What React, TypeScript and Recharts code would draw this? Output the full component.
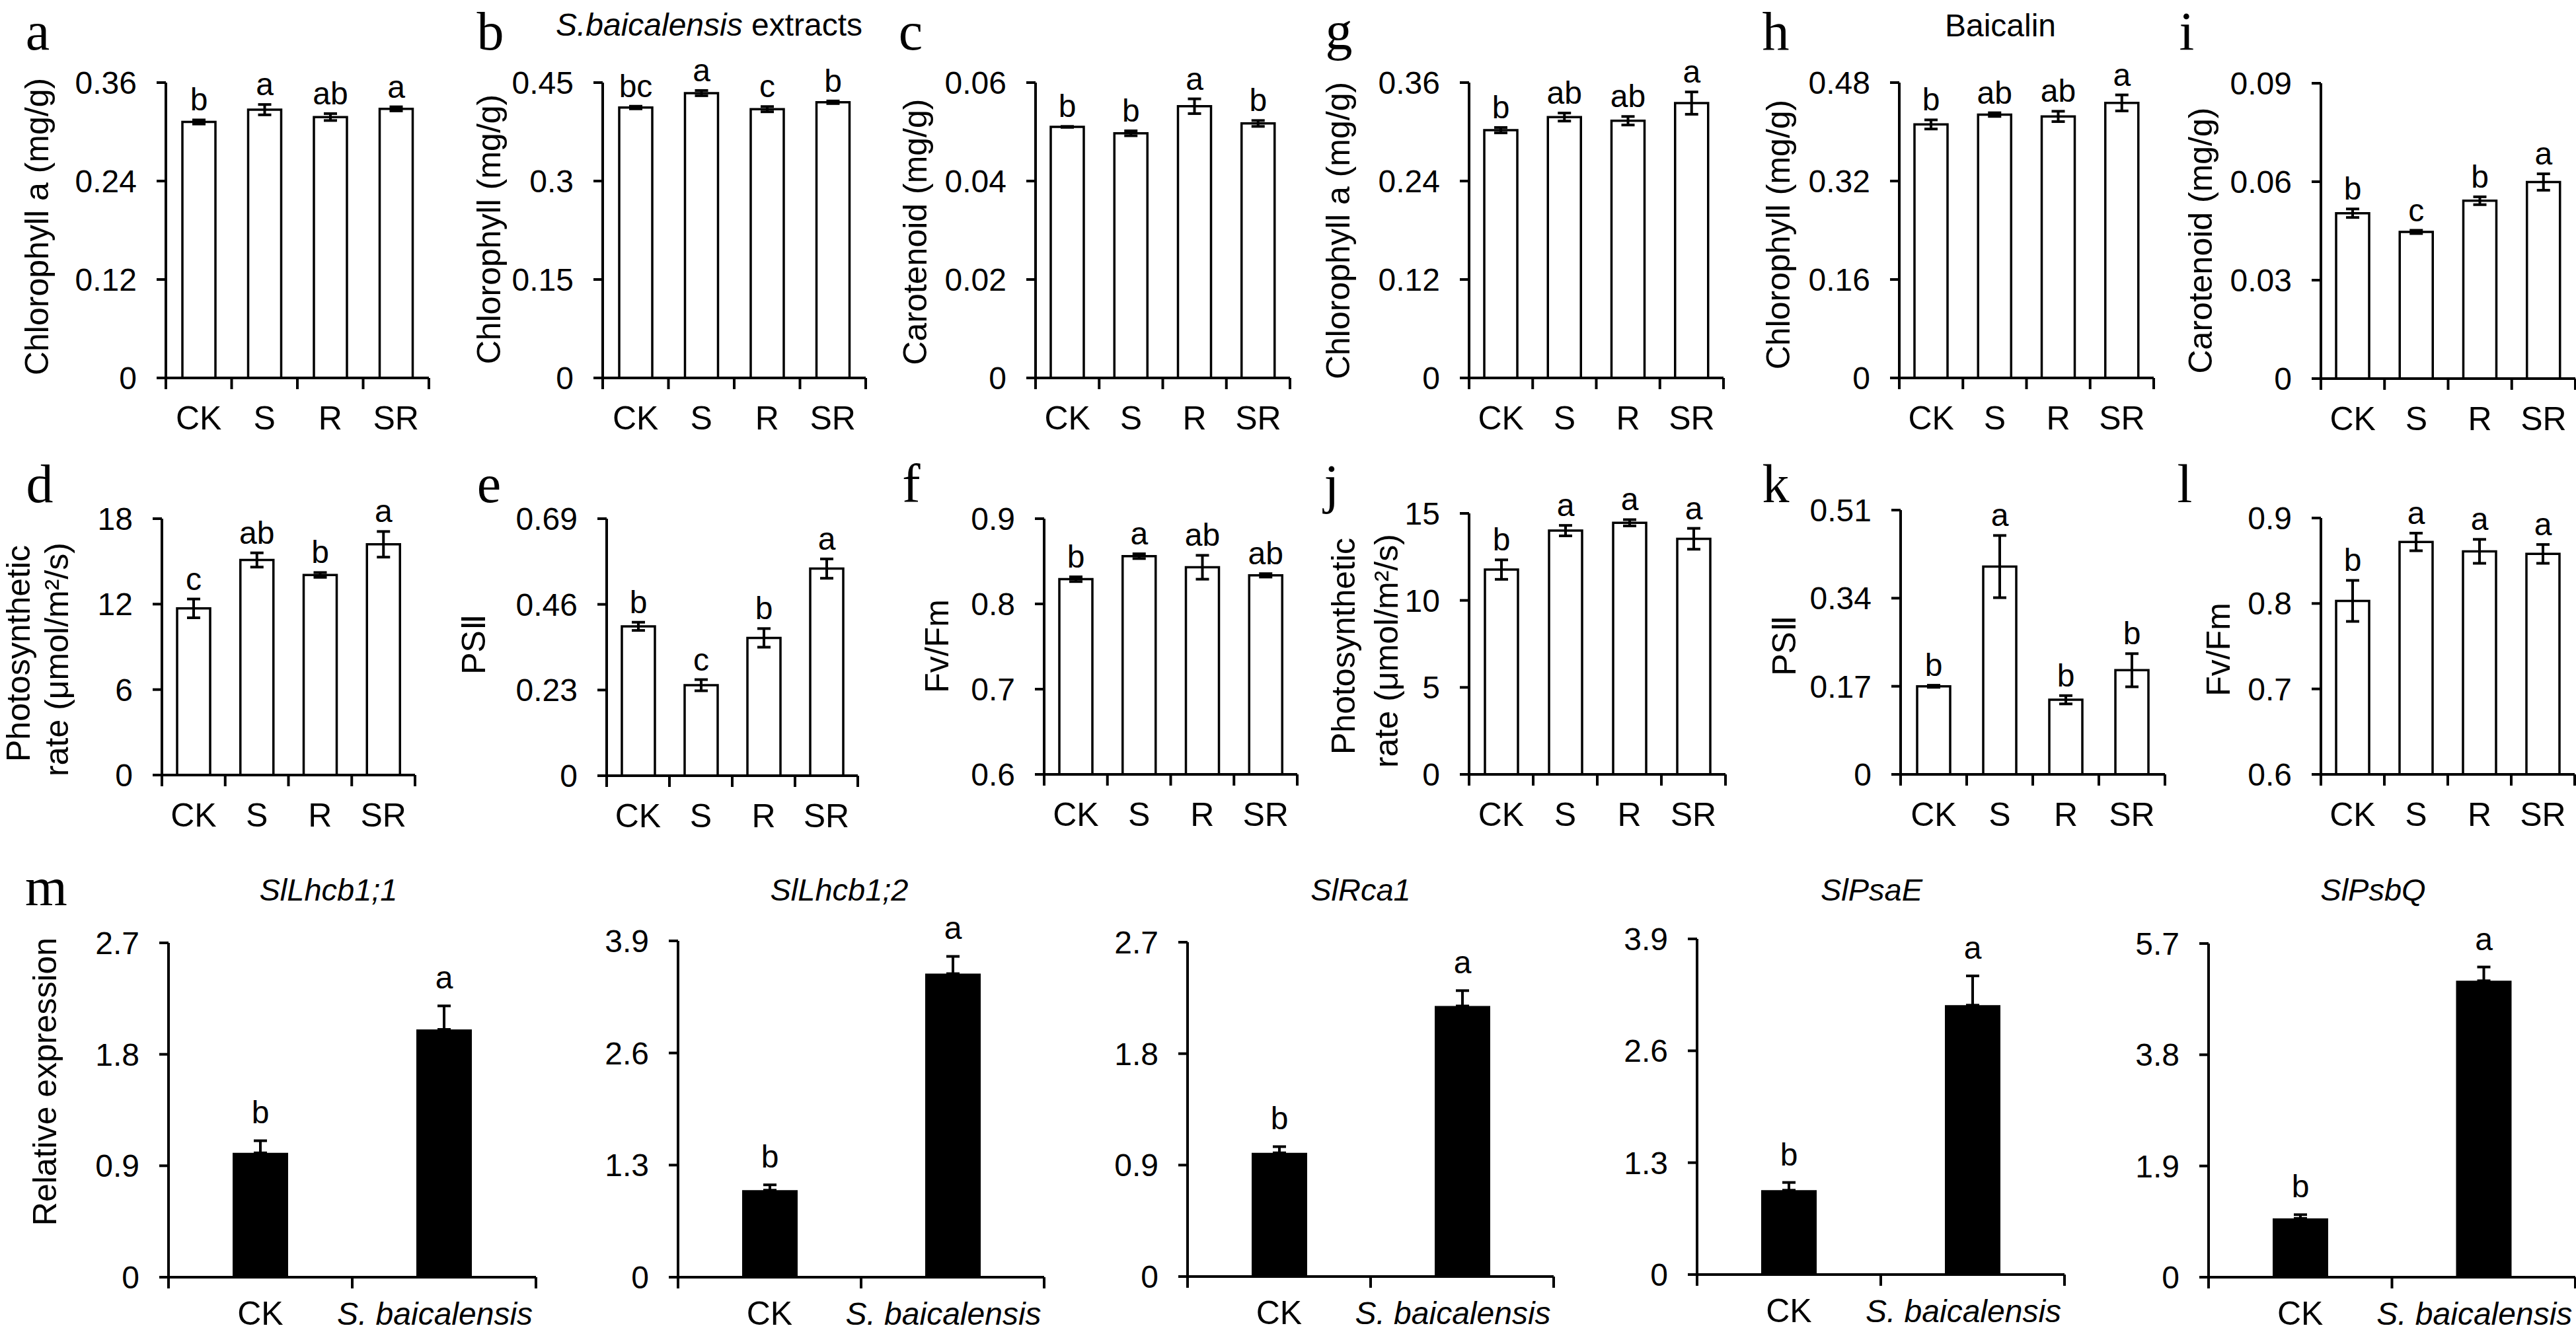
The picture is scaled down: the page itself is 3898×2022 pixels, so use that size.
import React from 'react';
import { BarChart, Bar, XAxis, YAxis, ErrorBar, LabelList } from 'recharts';

const SANS = '"Liberation Sans", Arial, Helvetica, sans-serif';
const SERIF = '"Liberation Serif", "Times New Roman", serif';

// ---------- categories ----------
const groups = ['CK', 'S', 'R', 'SR'];
const treatments = ['CK', 'S. baicalensis'];

// ---------- S. baicalensis extracts ----------
const chlAExt = [0.312, 0.327, 0.318, 0.328];
const chlAExtErr = [0.0025, 0.0063, 0.0042, 0.0025];
const chlAExtSig = ['b', 'a', 'ab', 'a'];
const chlAExtTicks = [0, 0.12, 0.24, 0.36];

const chlExt = [0.412, 0.434, 0.4095, 0.42];
const chlExtErr = [0.002, 0.004, 0.004, 0.002];
const chlExtSig = ['bc', 'a', 'c', 'b'];
const chlExtTicks = [0, 0.15, 0.3, 0.45];

const carExt = [0.051, 0.0497, 0.0552, 0.0517];
const carExtErr = [0.0001, 0.0005, 0.0015, 0.0006];
const carExtSig = ['b', 'b', 'a', 'b'];
const carExtTicks = [0, 0.02, 0.04, 0.06];

const photoExt = [11.7, 15.1, 14.05, 16.2];
const photoExtErr = [0.66, 0.5, 0.17, 0.9];
const photoExtSig = ['c', 'ab', 'b', 'a'];
const photoExtTicks = [0, 6, 12, 18];

const psiiExt = [0.401, 0.243, 0.37, 0.556];
const psiiExtErr = [0.011, 0.015, 0.025, 0.026];
const psiiExtSig = ['b', 'c', 'b', 'a'];
const psiiExtTicks = [0, 0.23, 0.46, 0.69];

const fvfmExt = [0.829, 0.856, 0.843, 0.8335];
const fvfmExtErr = [0.0028, 0.0028, 0.014, 0.002];
const fvfmExtSig = ['b', 'a', 'ab', 'ab'];
const fvfmExtTicks = [0.6, 0.7, 0.8, 0.9];

// ---------- Baicalin ----------
const chlABai = [0.302, 0.318, 0.3135, 0.335];
const chlABaiErr = [0.0033, 0.0049, 0.0052, 0.0136];
const chlABaiSig = ['b', 'ab', 'ab', 'a'];
const chlABaiTicks = [0, 0.12, 0.24, 0.36];

const chlBai = [0.412, 0.428, 0.425, 0.447];
const chlBaiErr = [0.0074, 0.003, 0.0084, 0.013];
const chlBaiSig = ['b', 'ab', 'ab', 'a'];
const chlBaiTicks = [0, 0.16, 0.32, 0.48];

const carBai = [0.0504, 0.0447, 0.0542, 0.0599];
const carBaiErr = [0.0013, 0.0005, 0.0012, 0.0025];
const carBaiSig = ['b', 'c', 'b', 'a'];
const carBaiTicks = [0, 0.03, 0.06, 0.09];

const photoBai = [11.77, 14.01, 14.46, 13.54];
const photoBaiErr = [0.56, 0.3, 0.18, 0.6];
const photoBaiSig = ['b', 'a', 'a', 'a'];
const photoBaiTicks = [0, 5, 10, 15];

const psiiBai = [0.17, 0.401, 0.144, 0.201];
const psiiBaiErr = [0.002, 0.06, 0.008, 0.032];
const psiiBaiSig = ['b', 'a', 'b', 'b'];
const psiiBaiTicks = [0, 0.17, 0.34, 0.51];

const fvfmBai = [0.803, 0.872, 0.861, 0.858];
const fvfmBaiErr = [0.024, 0.0103, 0.014, 0.011];
const fvfmBaiSig = ['b', 'a', 'a', 'a'];
const fvfmBaiTicks = [0.6, 0.7, 0.8, 0.9];

// ---------- gene expression ----------
const lhcb11 = [1.004, 2.001];
const lhcb11Err = [0.098, 0.19];
const lhcb12 = [1.009, 3.52];
const lhcb12Err = [0.062, 0.2];
const rca1 = [0.999, 2.185];
const rca1Err = [0.05, 0.124];
const psaE = [0.98, 3.13];
const psaEErr = [0.09, 0.34];
const psbQ = [1.004, 5.064];
const psbQErr = [0.064, 0.235];
const geneSig = ['b', 'a'];
const ticks27 = [0, 0.9, 1.8, 2.7];
const ticks39 = [0, 1.3, 2.6, 3.9];
const ticks57 = [0, 1.9, 3.8, 5.7];

// ---------- layout ----------
type Panel = {
  cats: string[];
  values: number[];
  errs: number[];
  sigs: string[];
  ticks: number[];
  axisX: number;
  top: number;
  bottom: number;
  width: number;
  solid?: boolean;
};

const panels: Panel[] = [
  { cats: groups, values: chlAExt, errs: chlAExtErr, sigs: chlAExtSig, ticks: chlAExtTicks, axisX: 251, top: 125, bottom: 572, width: 398 },
  { cats: groups, values: chlExt, errs: chlExtErr, sigs: chlExtSig, ticks: chlExtTicks, axisX: 912, top: 125, bottom: 572, width: 398 },
  { cats: groups, values: carExt, errs: carExtErr, sigs: carExtSig, ticks: carExtTicks, axisX: 1567, top: 125, bottom: 572, width: 385 },
  { cats: groups, values: chlABai, errs: chlABaiErr, sigs: chlABaiSig, ticks: chlABaiTicks, axisX: 2223, top: 125, bottom: 572, width: 385 },
  { cats: groups, values: chlBai, errs: chlBaiErr, sigs: chlBaiSig, ticks: chlBaiTicks, axisX: 2874, top: 125, bottom: 572, width: 385 },
  { cats: groups, values: carBai, errs: carBaiErr, sigs: carBaiSig, ticks: carBaiTicks, axisX: 3512, top: 126, bottom: 573, width: 385 },

  { cats: groups, values: photoExt, errs: photoExtErr, sigs: photoExtSig, ticks: photoExtTicks, axisX: 245, top: 785, bottom: 1173, width: 383 },
  { cats: groups, values: psiiExt, errs: psiiExtErr, sigs: psiiExtSig, ticks: psiiExtTicks, axisX: 918, top: 785, bottom: 1174, width: 380 },
  { cats: groups, values: fvfmExt, errs: fvfmExtErr, sigs: fvfmExtSig, ticks: fvfmExtTicks, axisX: 1580, top: 785, bottom: 1172, width: 383 },
  { cats: groups, values: photoBai, errs: photoBaiErr, sigs: photoBaiSig, ticks: photoBaiTicks, axisX: 2223, top: 777, bottom: 1172, width: 388 },
  { cats: groups, values: psiiBai, errs: psiiBaiErr, sigs: psiiBaiSig, ticks: psiiBaiTicks, axisX: 2876, top: 772, bottom: 1172, width: 400 },
  { cats: groups, values: fvfmBai, errs: fvfmBaiErr, sigs: fvfmBaiSig, ticks: fvfmBaiTicks, axisX: 3512, top: 784, bottom: 1172, width: 384 },

  { cats: treatments, values: lhcb11, errs: lhcb11Err, sigs: geneSig, ticks: ticks27, axisX: 255, top: 1427, bottom: 1933, width: 556, solid: true },
  { cats: treatments, values: lhcb12, errs: lhcb12Err, sigs: geneSig, ticks: ticks39, axisX: 1026, top: 1424, bottom: 1933, width: 554, solid: true },
  { cats: treatments, values: rca1, errs: rca1Err, sigs: geneSig, ticks: ticks27, axisX: 1797, top: 1426, bottom: 1932, width: 554, solid: true },
  { cats: treatments, values: psaE, errs: psaEErr, sigs: geneSig, ticks: ticks39, axisX: 2568, top: 1421, bottom: 1929, width: 556, solid: true },
  { cats: treatments, values: psbQ, errs: psbQErr, sigs: geneSig, ticks: ticks57, axisX: 3342, top: 1428, bottom: 1933, width: 555, solid: true },
];

const YW = 160;
const MT = 110;
const MR = 14;

type Row = { name: string; value: number; err: number | number[]; up: number; sig: string };

function buildRows(p: Panel): Row[] {
  return p.cats.map((c, i) => ({
    name: c,
    value: p.values[i],
    err: p.solid ? [0, p.errs[i]] : p.errs[i],
    up: p.errs[i],
    sig: p.sigs[i],
  }));
}

function renderXTick(tp: any, band: number, labelDy: number, n: number) {
  const { x, y, payload, index } = tp;
  const half = payload && typeof payload.offset === 'number' && payload.offset > 0 ? payload.offset : band / 2;
  const left = x - half;
  const label = String(payload.value);
  const italic = label.includes('baicalensis');
  return (
    <g>
      <line x1={left} y1={y} x2={left} y2={y + 17} stroke="#000" strokeWidth={4} />
      {index === n - 1 && <line x1={x + half} y1={y} x2={x + half} y2={y + 17} stroke="#000" strokeWidth={4} />}
      {index === 0 && <line x1={left - 14} y1={y} x2={left} y2={y} stroke="#000" strokeWidth={4} />}
      <text
        x={italic ? x - 14 : x}
        y={y + labelDy}
        textAnchor="middle"
        fontSize={italic ? 48 : 50}
        fontFamily={SANS}
        fontStyle={italic ? 'italic' : 'normal'}
        fill="#000"
      >
        {label}
      </text>
    </g>
  );
}

function renderSig(lp: any, rows: Row[], yMin: number, gap: number, band: number) {
  const vb = lp.viewBox || {};
  const x = vb.x ?? lp.x;
  const y = vb.y ?? lp.y;
  const w = vb.width ?? lp.width;
  const h = vb.height ?? lp.height;
  let i = typeof lp.index === 'number' ? lp.index : -1;
  if (i < 0) i = Math.max(0, Math.min(rows.length - 1, Math.floor((x + w / 2 - YW) / band)));
  const r = rows[i];
  if (!r) return null;
  const ppu = Math.abs(h) / (r.value - yMin);
  const top = Math.min(y, y + h) - r.up * ppu;
  return (
    <text x={x + w / 2} y={top - gap} textAnchor="middle" fontSize={48} fontFamily={SANS} fill="#000">
      {r.sig}
    </text>
  );
}

function PanelChart({ p }: { p: Panel }) {
  const rows = buildRows(p);
  const plotH = p.bottom - p.top;
  const yMin = p.ticks[0];
  const yMax = p.ticks[p.ticks.length - 1];
  const n = p.cats.length;
  const band = p.width / n;
  const labelDy = p.solid ? 72 : 78;
  const gap = p.solid ? 26 : 14;
  const xh = p.solid ? 86 : 104;
  return (
    <div style={{ position: 'absolute', left: p.axisX - YW, top: p.top - MT }}>
      <BarChart
        width={YW + p.width + MR}
        height={MT + plotH + xh}
        data={rows}
        margin={{ top: MT, right: MR, bottom: 0, left: 0 }}
        barSize={p.solid ? 84 : 50}
      >
        <XAxis
          dataKey="name"
          height={xh}
          interval={0}
          axisLine={{ stroke: '#000', strokeWidth: 4 }}
          tickLine={false}
          tickSize={0}
          tickMargin={0}
          tick={(tp: any) => renderXTick(tp, band, labelDy, n)}
        />
        <YAxis
          width={YW}
          type="number"
          domain={[yMin, yMax]}
          ticks={p.ticks}
          interval={0}
          allowDataOverflow
          axisLine={{ stroke: '#000', strokeWidth: 4 }}
          tickLine={{ stroke: '#000', strokeWidth: 4 }}
          tickSize={14}
          tickMargin={30}
          tick={{ fontSize: 48, fill: '#000', fontFamily: SANS }}
        />
        <Bar
          dataKey="value"
          fill={p.solid ? '#000' : '#fff'}
          stroke="#000"
          strokeWidth={p.solid ? 0 : 3.5}
          isAnimationActive={false}
        >
          <ErrorBar dataKey="err" width={10} strokeWidth={4} stroke="#000" direction="y" />
          <LabelList dataKey="sig" content={(lp: any) => renderSig(lp, rows, yMin, gap, band)} />
        </Bar>
      </BarChart>
    </div>
  );
}

// ---------- overlay texts ----------
const panelLetters = [
  { t: 'a', x: 57, y: 75 }, { t: 'b', x: 742, y: 75 }, { t: 'c', x: 1378, y: 75 },
  { t: 'g', x: 2026, y: 74 }, { t: 'h', x: 2687, y: 75 }, { t: 'i', x: 3309, y: 75 },
  { t: 'd', x: 60, y: 760 }, { t: 'e', x: 740, y: 760 }, { t: 'f', x: 1379, y: 760 },
  { t: 'j', x: 2015, y: 760 }, { t: 'k', x: 2687, y: 760 }, { t: 'l', x: 3306, y: 760 },
  { t: 'm', x: 70, y: 1370 },
];

const yLabels = [
  { t: 'Chlorophyll a (mg/g)', x: 56, y: 343 },
  { t: 'Chlorophyll (mg/g)', x: 740, y: 347 },
  { t: 'Carotenoid (mg/g)', x: 1385, y: 351 },
  { t: 'Chlorophyll a (mg/g)', x: 2025, y: 349 },
  { t: 'Chlorophyll (mg/g)', x: 2691, y: 355 },
  { t: 'Carotenoid (mg/g)', x: 3330, y: 364 },
  { t: 'Photosynthetic', x: 28, y: 989 },
  { t: 'rate (μmol/m²/s)', x: 86, y: 998 },
  { t: 'Fv/Fm', x: 1418, y: 978 },
  { t: 'Photosynthetic', x: 2033, y: 978 },
  { t: 'rate (μmol/m²/s)', x: 2098, y: 985 },
  { t: 'Fv/Fm', x: 3357, y: 983 },
  { t: 'Relative expression', x: 68, y: 1637 },
];

const psiiLabels = [
  { x: 717, y: 975 },
  { x: 2700, y: 977 },
];

const geneTitles = [
  { t: 'SlLhcb1;1', x: 497 },
  { t: 'SlLhcb1;2', x: 1270 },
  { t: 'SlRca1', x: 2059 },
  { t: 'SlPsaE', x: 2832 },
  { t: 'SlPsbQ', x: 3591 },
];

function Overlay() {
  return (
    <svg width={3898} height={2022} style={{ position: 'absolute', left: 0, top: 0, pointerEvents: 'none' }}>
      {panelLetters.map((l) => (
        <text key={l.t} x={l.x} y={l.y} textAnchor="middle" fontSize={82} fontFamily={SERIF} fill="#000">
          {l.t}
        </text>
      ))}
      <text x={1073} y={54} textAnchor="middle" fontSize={48} fontFamily={SANS} fill="#000">
        <tspan fontStyle="italic">S.baicalensis</tspan>
        <tspan> extracts</tspan>
      </text>
      <text x={3027} y={55} textAnchor="middle" fontSize={48} fontFamily={SANS} fill="#000">
        Baicalin
      </text>
      {geneTitles.map((g) => (
        <text key={g.t} x={g.x} y={1363} textAnchor="middle" fontSize={47} fontStyle="italic" fontFamily={SANS} fill="#000">
          {g.t}
        </text>
      ))}
      {yLabels.map((l, i) => (
        <text
          key={i}
          x={0}
          y={0}
          transform={`translate(${l.x},${l.y}) rotate(-90)`}
          textAnchor="middle"
          dominantBaseline="central"
          fontSize={50}
          fontFamily={SANS}
          fill="#000"
        >
          {l.t}
        </text>
      ))}
      {psiiLabels.map((l, i) => (
        <text
          key={i}
          x={0}
          y={0}
          transform={`translate(${l.x},${l.y}) rotate(-90)`}
          textAnchor="middle"
          dominantBaseline="central"
          fontSize={50}
          fontFamily={SANS}
          fill="#000"
        >
          <tspan>PS</tspan>
          <tspan fontFamily={SERIF}>Ⅱ</tspan>
        </text>
      ))}
    </svg>
  );
}

export default function App() {
  return (
    <div
      style={{
        position: 'absolute',
        left: 0,
        top: 0,
        width: 3898,
        height: 2022,
        overflow: 'hidden',
        background: '#fff',
        fontFamily: SANS,
      }}
    >
      {panels.map((p, i) => (
        <PanelChart key={i} p={p} />
      ))}
      <Overlay />
    </div>
  );
}
